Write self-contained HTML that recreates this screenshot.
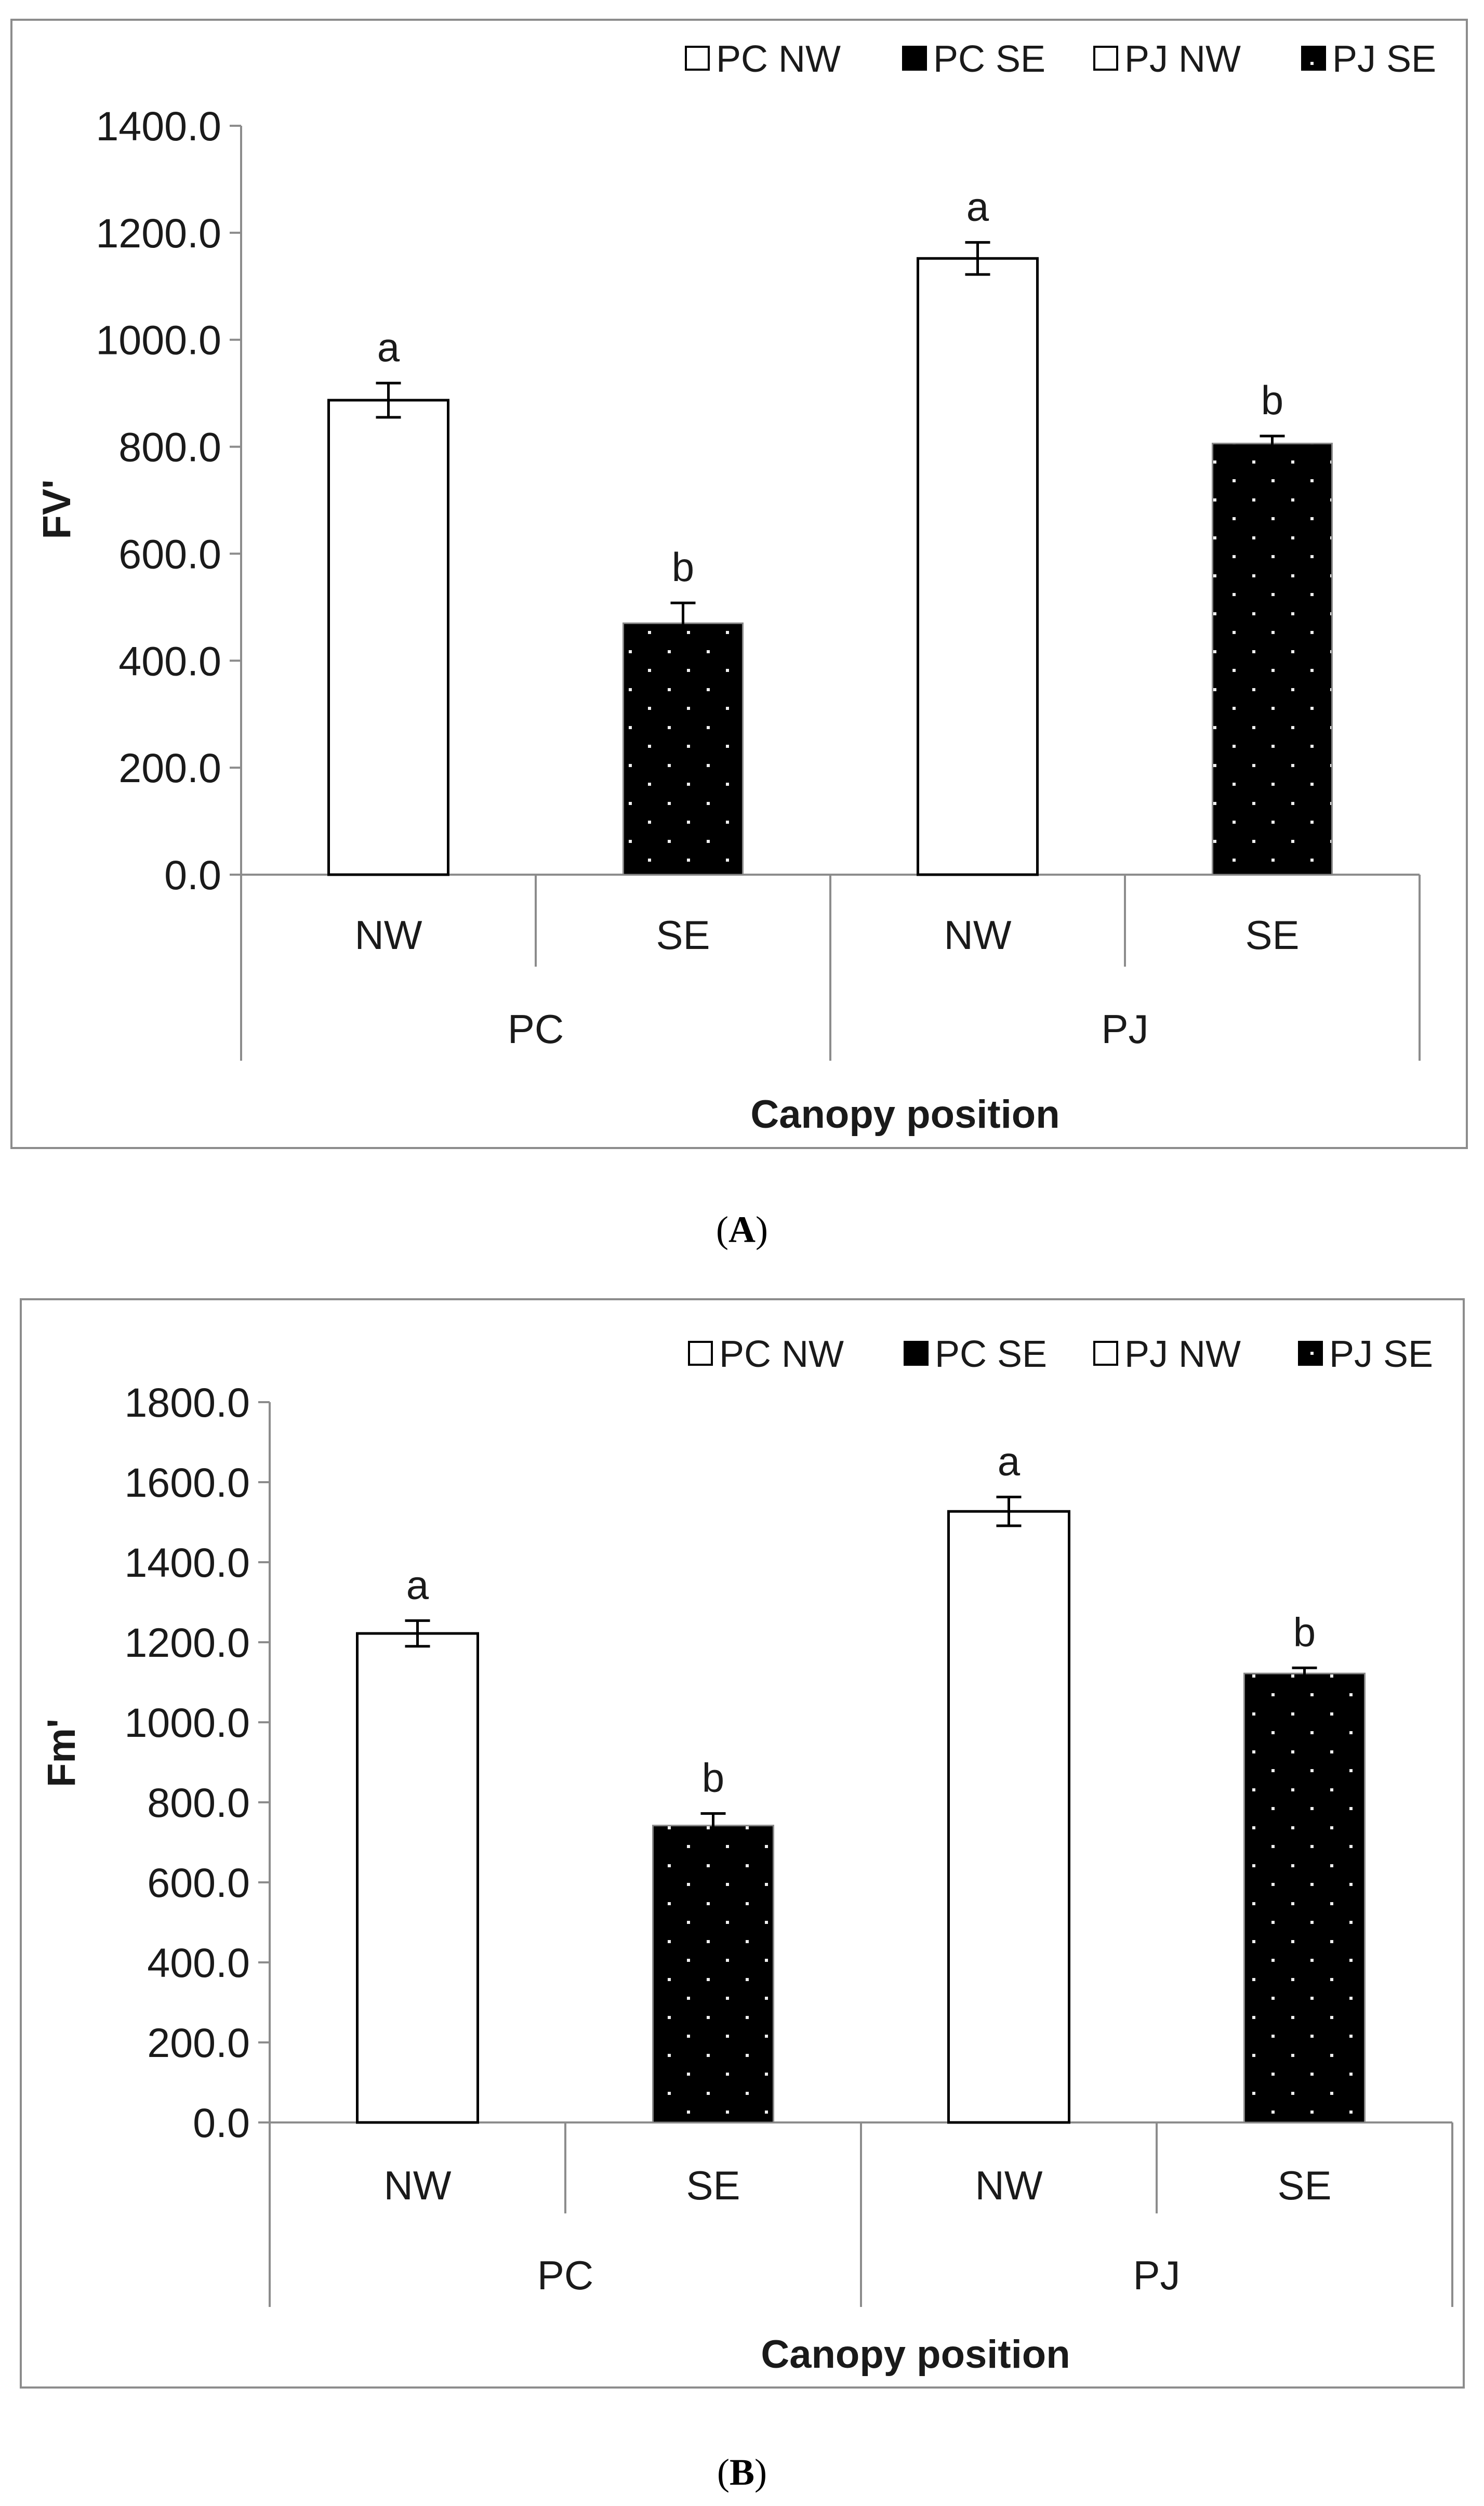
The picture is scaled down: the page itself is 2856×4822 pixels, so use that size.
<!DOCTYPE html>
<html><head><meta charset="utf-8"><style>
html,body{margin:0;padding:0;background:#fff;}
svg{display:block;font-family:"Liberation Sans",sans-serif;}
</style></head><body>
<svg id="root" width="2856" height="4822" viewBox="0 0 2856 4822" xmlns="http://www.w3.org/2000/svg">
<defs>
<pattern id="dots" x="0" y="0" width="75" height="73" patternUnits="userSpaceOnUse">
<rect width="75" height="73" fill="#000"/>
<rect x="10" y="10" width="6" height="6" fill="#eee"/>
<rect x="47" y="46" width="6" height="6" fill="#eee"/>
</pattern>
</defs>
</svg>
<script>
// Chart A data
const catsA = ["NW","SE","NW","SE"];
const groupsA = ["PC","PJ"];
const valuesA = [887, 470, 1152, 806];
const errorsA = [32, 38, 30, 14];
const lettersA = ["a","b","a","b"];
const ticksA = [0,200,400,600,800,1000,1200,1400];
// Chart B data
const catsB = ["NW","SE","NW","SE"];
const groupsB = ["PC","PJ"];
const valuesB = [1222, 742, 1527, 1122];
const errorsB = [32, 30, 36, 14];
const lettersB = ["a","b","a","b"];
const ticksB = [0,200,400,600,800,1000,1200,1400,1600,1800];
const legendLabels = ["PC NW","PC SE","PJ NW","PJ SE"];

const NS="http://www.w3.org/2000/svg";
const root=document.getElementById('root');
function mk(tag,attrs,parent){const e=document.createElementNS(NS,tag);for(const k in attrs)e.setAttribute(k,attrs[k]);(parent||root).appendChild(e);return e;}

function drawChart(c){
  const g=mk('g',{});
  
  
  const frame=mk('rect',{x:c.frame[0],y:c.frame[1],width:c.frame[2]-c.frame[0],height:c.frame[3]-c.frame[1],fill:'none',stroke:'#8c8c8c','stroke-width':4},g);
  
  
  const y=v=>c.y0+(c.yTop-c.y0)*v/c.max;
  const n=c.cats.length;
  const bw=(c.xR-c.xL)/n;
  const ax=mk('line',{x1:c.xL,y1:y(c.max),x2:c.xL,y2:c.y0,stroke:'#8c8c8c','stroke-width':4},g);
  
  
  c.ticks.forEach(t=>{
    const tk=mk('line',{x1:c.xL-22,y1:y(t),x2:c.xL,y2:y(t),stroke:'#8c8c8c','stroke-width':4},g);
    
    
    const tl=mk('text',{x:c.xL-38,y:y(t)+28,'text-anchor':'end','font-size':79,fill:'#1a1a1a'},g);
    tl.textContent=t.toFixed(1);
    
    
  });
  const xa=mk('line',{x1:c.xL,y1:c.y0,x2:c.xR,y2:c.y0,stroke:'#8c8c8c','stroke-width':4},g);
  
  
  for(let i=0;i<=n;i++){
    const x=c.xL+i*bw;
    const long=(i%2===0);
    const d=mk('line',{x1:x,y1:c.y0,x2:x,y2:long?c.longB:c.shortB,stroke:'#8c8c8c','stroke-width':4},g);
    
    
  }
  c.cats.forEach((cat,i)=>{
    const cx=c.xL+(i+0.5)*bw;
    const t=mk('text',{x:cx,y:c.catY,'text-anchor':'middle','font-size':78,fill:'#1a1a1a'},g);
    t.textContent=cat;
    
    
    const v=c.values[i], e=c.errors[i];
    const b=mk('rect',{x:cx-c.barW/2,y:y(v),width:c.barW,height:c.y0-y(v),fill:i%2?'url(#dots)':'#fff',stroke:i%2?'#888':'#000','stroke-width':i%2?3:5},g);
    
    
    const el=mk('path',{d:`M${cx},${y(v+e)}V${y(v-e)}M${cx-24},${y(v+e)}H${cx+24}M${cx-24},${y(v-e)}H${cx+24}`,stroke:'#000','stroke-width':5,fill:'none'},g);
    
    
    const lt=mk('text',{x:cx,y:y(v+e)-42,'text-anchor':'middle','font-size':78,fill:'#1a1a1a'},g);
    lt.textContent=c.letters[i];
    
    
  });
  c.groups.forEach((gr,j)=>{
    const t=mk('text',{x:c.xL+(j*2+1)*bw,y:c.grpY,'text-anchor':'middle','font-size':78,fill:'#1a1a1a'},g);
    t.textContent=gr;
    
    
  });
  const xt=mk('text',{x:c.xTitleX,y:c.xTitleY,'text-anchor':'middle','font-size':76,'font-weight':'bold',fill:'#1a1a1a'},g);
  xt.textContent='Canopy position';
  
  
  const yt=mk('text',{x:0,y:0,'text-anchor':'middle','font-size':76,'font-weight':'bold',fill:'#1a1a1a',transform:`translate(${c.yTitleX},${c.yTitleY}) rotate(-90)`},g);
  yt.textContent=c.yTitle;
  
  
  legendLabels.forEach((lab,k)=>{
    const bx=c.legX[k];
    const sw=mk('rect',{x:bx,y:c.legY-22,width:44,height:44,fill:k%2?(k===3?'url(#dots)':'#000'):'#fff',stroke:'#000','stroke-width':4},g);
    
    
    const t=mk('text',{x:bx+58,y:c.legY+26,'font-size':72,fill:'#1a1a1a'},g);
    t.textContent=lab;
    
    
  });
  const cap=mk('text',{x:1428,y:c.capY,'text-anchor':'middle','font-size':72,'font-family':'Liberation Serif, serif',fill:'#000'},g);
  cap.innerHTML='(<tspan font-weight="bold">'+c.cap+'</tspan>)';
  
  
}
drawChart({name:'chart-a',frame:[22,38,2823,2209],xL:464,xR:2732,y0:1683,yTop:242,max:1400,ticks:ticksA,
  cats:catsA,groups:groupsA,values:valuesA,errors:errorsA,letters:lettersA,barW:230,
  shortB:1860,longB:2041,catY:1826,grpY:2007,xTitleX:1742,xTitleY:2170,yTitleX:135,yTitleY:980,yTitle:"FV'",
  legX:[1320,1738,2106,2506],legY:112,capY:2390,cap:'A'});
drawChart({name:'chart-b',frame:[40,2500,2817,4594],xL:519,xR:2795,y0:4084,yTop:2698,max:1800,ticks:ticksB,
  cats:catsB,groups:groupsB,values:valuesB,errors:errorsB,letters:lettersB,barW:232,
  shortB:4259,longB:4439,catY:4232,grpY:4405,xTitleX:1762,xTitleY:4556,yTitleX:144,yTitleY:3373,yTitle:"Fm'",
  legX:[1326,1741,2106,2500],legY:2604,capY:4781,cap:'B'});
</script>
</body></html>
